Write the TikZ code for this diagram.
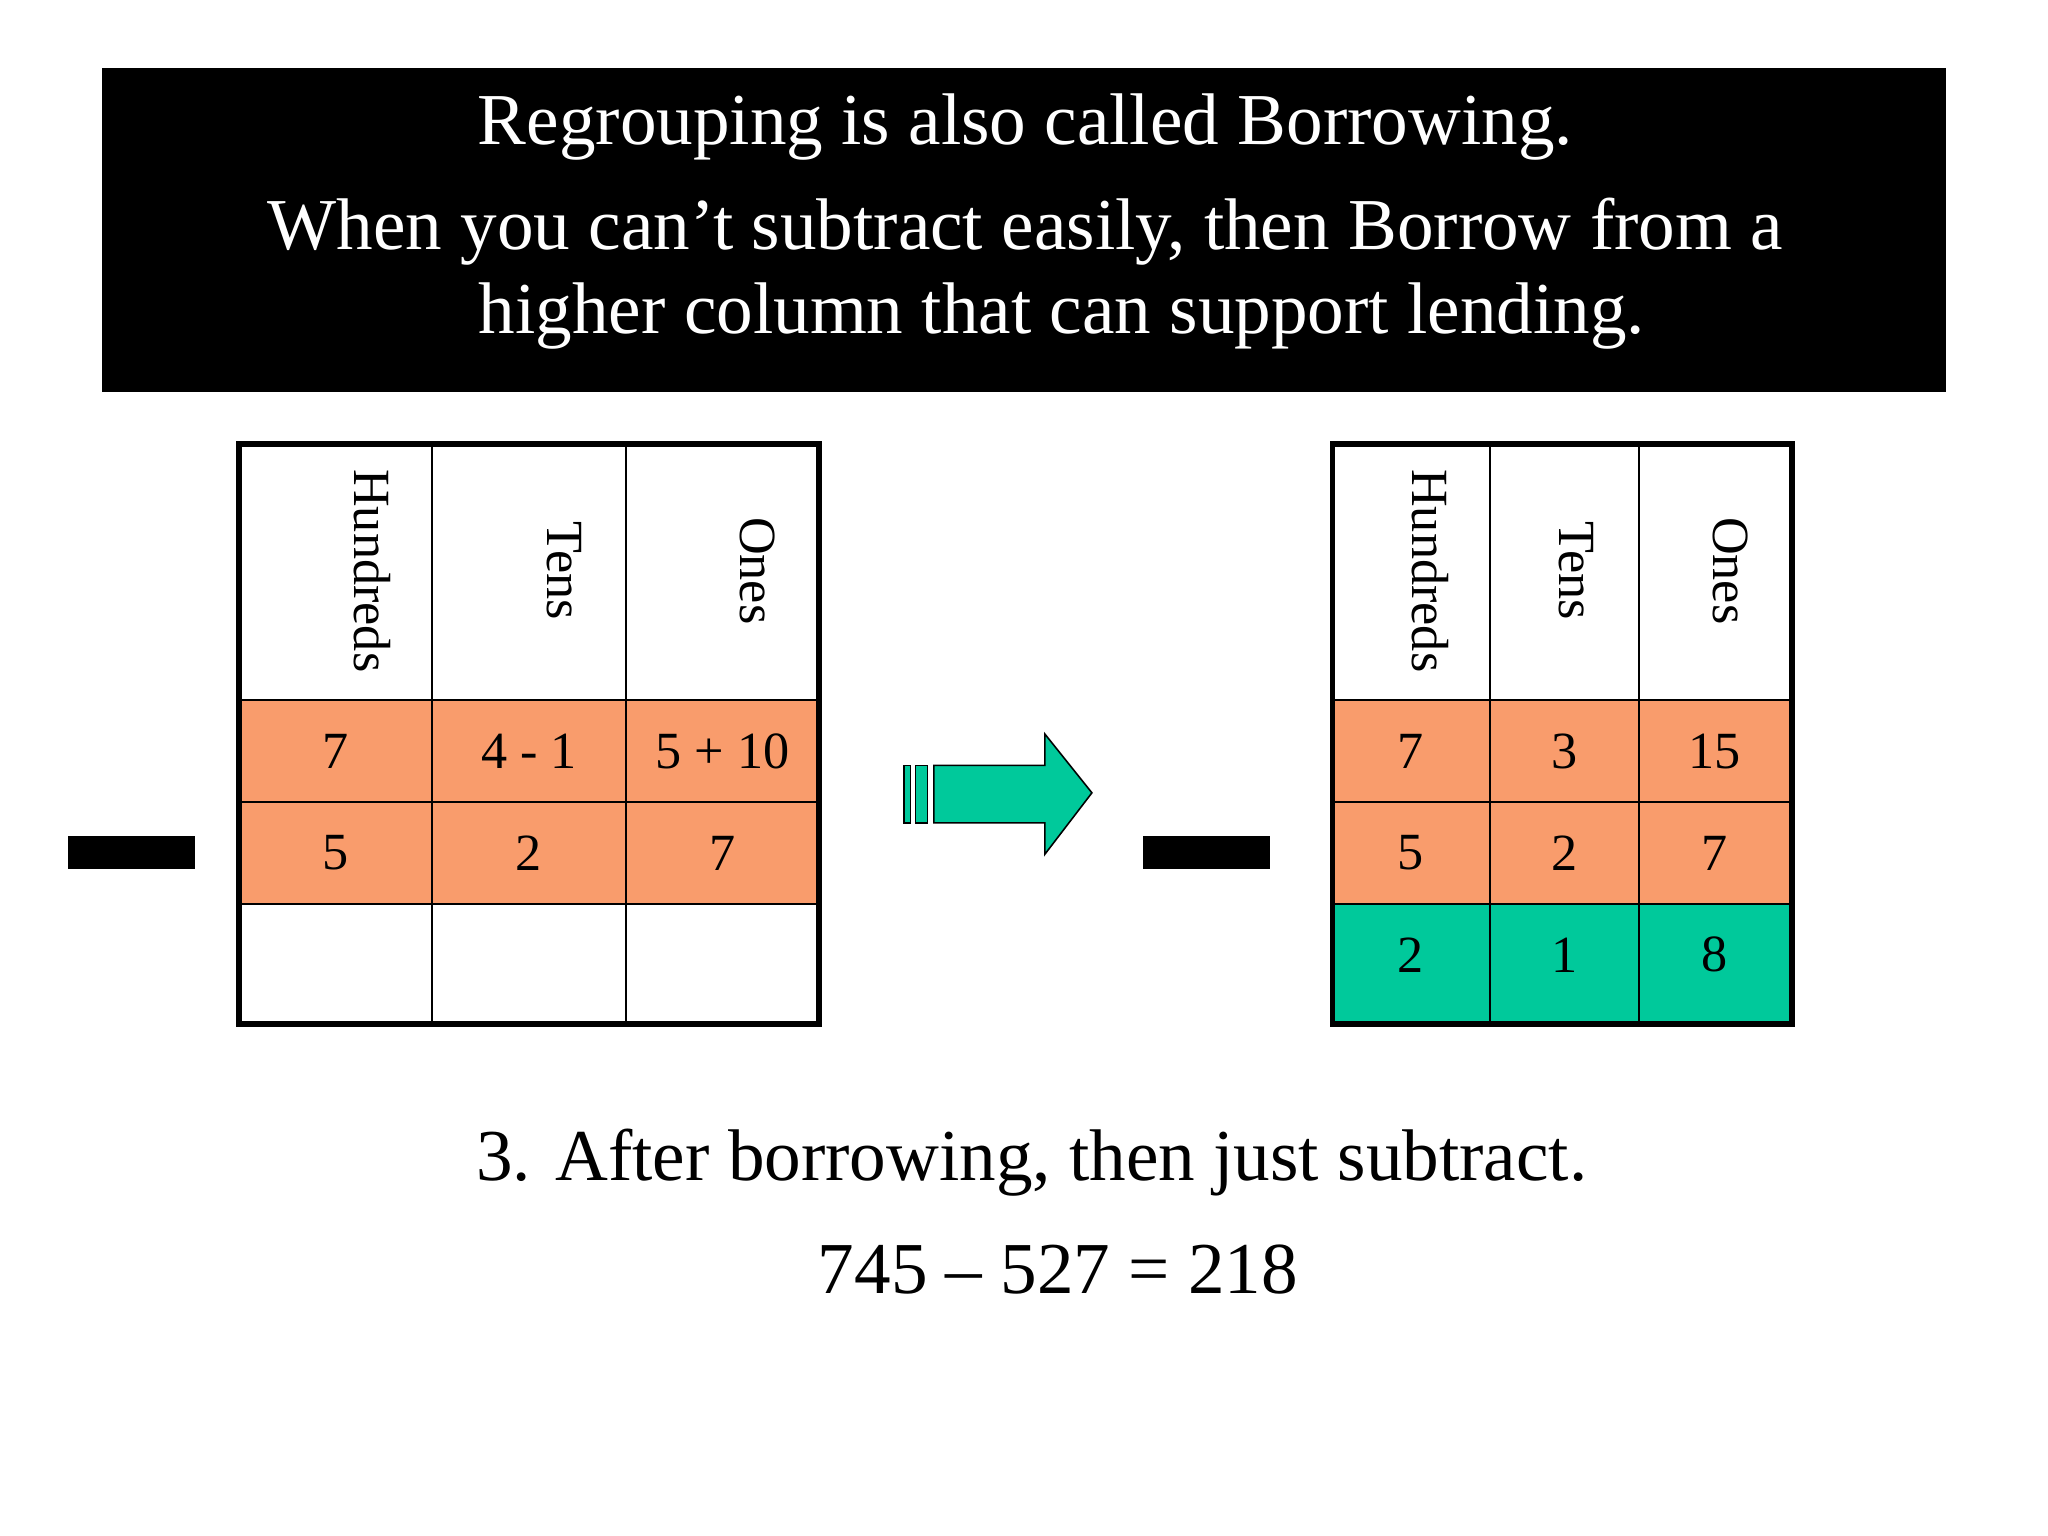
\documentclass[tikz,border=0pt]{standalone}
\usepackage{fontspec}
\setmainfont{Liberation Serif}
\definecolor{org}{HTML}{F99C6C}
\definecolor{grn}{HTML}{00C99B}
\begin{document}
\begin{tikzpicture}[x=0.5pt,y=-0.5pt,
  title/.style={text=white,font=\fontsize{28}{30}\selectfont},
  cell/.style={font=\fontsize{20}{22}\selectfont},
  hdr/.style={font=\fontsize{20}{22}\selectfont,rotate=-90},
  big/.style={font=\fontsize{28}{30}\selectfont}]
\useasboundingbox[fill=white] (0,0) rectangle (1568,1176);
\fill[black] (78,52) rectangle (1490,300);
\node[title] (t1) at (785,97) {Regrouping is also called Borrowing.};
\node[title] (t2) at (785,177) {When you can’t subtract easily, then Borrow from a};
\node[title] (t3) at (813,242) {higher column that can support lending.};
% left table
\fill[org] (183,536) rectangle (627,692);
\draw[line width=0.8pt] (331,340)--(331,784) (479,340)--(479,784)
  (183,536)--(627,536) (183,614)--(627,614) (183,692)--(627,692);
\draw[line width=2pt] (183,340) rectangle (627,784);
\node[hdr] (lh) at (285,437) {Hundreds};
\node[hdr] (lt) at (432,437) {Tens};
\node[hdr] (lo) at (580,437) {Ones};
\node[cell] (l11) at (257,575) {7};
\node[cell] (l12) at (405,575) {4 - 1};
\node[cell] (l13) at (553,575) {5 + 10};
\node[cell] (l21) at (257,653) {5};
\node[cell] (l22) at (405,653) {2};
\node[cell] (l23) at (553,653) {7};
% right table
\fill[org] (1020,536) rectangle (1372,692);
\fill[grn] (1020,692) rectangle (1372,784);
\draw[line width=0.8pt] (1141,340)--(1141,784) (1255,340)--(1255,784)
  (1020,536)--(1372,536) (1020,614)--(1372,614) (1020,692)--(1372,692);
\draw[line width=2pt] (1020,340) rectangle (1372,784);
\node[hdr] (rh) at (1095,437) {Hundreds};
\node[hdr] (rt) at (1207,437) {Tens};
\node[hdr] (ro) at (1325,437) {Ones};
\node[cell] (r11) at (1080,575) {7};
\node[cell] (r12) at (1198,575) {3};
\node[cell] (r13) at (1313,575) {15};
\node[cell] (r21) at (1080,653) {5};
\node[cell] (r22) at (1198,653) {2};
\node[cell] (r23) at (1313,653) {7};
\node[cell] (r31) at (1080,731) {2};
\node[cell] (r32) at (1198,731) {1};
\node[cell] (r33) at (1313,731) {8};
% minus bars
\fill[black] (52,640) rectangle (149,665);
\fill[black] (875,640) rectangle (972,665);
% arrow
\draw[fill=grn,line width=0.6pt] (692,586) rectangle (697,630);
\draw[fill=grn,line width=0.6pt] (701,586) rectangle (710,630);
\draw[fill=grn,line width=0.6pt] (715,586)--(800,586)--(800,562)--(836,607)--(800,654)--(800,630)--(715,630)--cycle;
% bottom text
\node[big] (b1) at (790,890) {3. After borrowing, then just subtract.};
\node[big] (b2) at (810,972) {745 – 527 = 218};
\end{tikzpicture}
\end{document}
